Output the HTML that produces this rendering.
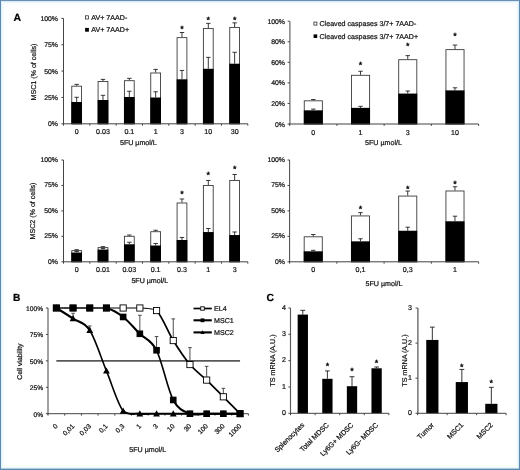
<!DOCTYPE html>
<html lang="en"><head><meta charset="utf-8"><title>Figure</title>
<style>
html,body{margin:0;padding:0;background:#fff;}
body{width:520px;height:470px;overflow:hidden;}
svg{display:block;text-rendering:geometricPrecision;font-family:"Liberation Sans",sans-serif;}
</style></head><body>
<svg width="520" height="470" viewBox="0 0 520 470">
<rect x="0" y="0" width="520" height="470" fill="#fff"/>
<rect x="3.5" y="3.5" width="513" height="462.6" fill="none" stroke="#f7fcff" stroke-width="1"/>
<rect x="2.5" y="2.5" width="515" height="464.6" fill="none" stroke="#eef9fe" stroke-width="1"/>
<rect x="1.5" y="1.5" width="517" height="466.6" fill="none" stroke="#e0f4fd" stroke-width="1"/>
<rect x="4.5" y="4.5" width="511" height="460.6" fill="none" stroke="#fbfeff" stroke-width="1"/>
<rect x="0" y="0" width="520" height="1.1" fill="#6d8fb4"/>
<rect x="0" y="0" width="1" height="470" fill="#5f88b1"/>
<rect x="518.95" y="0" width="1.05" height="470" fill="#5f88b1"/>
<rect x="0" y="468.6" width="520" height="1.4" fill="#5f88b1"/>
<defs><filter id="soft" x="-2%" y="-2%" width="104%" height="104%"><feGaussianBlur stdDeviation="0.35"/></filter></defs>
<g filter="url(#soft)">
<text x="13.50" y="21.30" text-anchor="start" font-size="10.5" font-weight="bold" fill="#000" stroke="#000" stroke-width="0.22">A</text>
<text x="12.90" y="301.30" text-anchor="start" font-size="10.2" font-weight="bold" fill="#000" stroke="#000" stroke-width="0.22">B</text>
<text x="266.50" y="300.80" text-anchor="start" font-size="10.4" font-weight="bold" fill="#000" stroke="#000" stroke-width="0.22">C</text>
<rect x="71.76" y="86.20" width="9.80" height="37.60" fill="#fff" stroke="#3c3c3c" stroke-width="0.9"/>
<rect x="71.31" y="101.97" width="10.70" height="22.23" fill="#000" stroke="none" stroke-width="1"/>
<line x1="76.66" y1="101.97" x2="76.66" y2="97.29" stroke="#222" stroke-width="0.9" />
<line x1="74.46" y1="97.29" x2="78.86" y2="97.29" stroke="#222" stroke-width="0.9" />
<line x1="76.66" y1="85.75" x2="76.66" y2="84.40" stroke="#222" stroke-width="0.9" />
<line x1="74.46" y1="84.40" x2="78.86" y2="84.40" stroke="#222" stroke-width="0.9" />
<text x="76.66" y="134.30" text-anchor="middle" font-size="7.1" font-weight="normal" fill="#111" stroke="#111" stroke-width="0.22">0</text>
<rect x="98.09" y="81.52" width="9.80" height="42.28" fill="#fff" stroke="#3c3c3c" stroke-width="0.9"/>
<rect x="97.64" y="100.00" width="10.70" height="24.20" fill="#000" stroke="none" stroke-width="1"/>
<line x1="102.99" y1="100.00" x2="102.99" y2="95.32" stroke="#222" stroke-width="0.9" />
<line x1="100.79" y1="95.32" x2="105.19" y2="95.32" stroke="#222" stroke-width="0.9" />
<line x1="102.99" y1="81.07" x2="102.99" y2="79.41" stroke="#222" stroke-width="0.9" />
<line x1="100.79" y1="79.41" x2="105.19" y2="79.41" stroke="#222" stroke-width="0.9" />
<text x="102.99" y="134.30" text-anchor="middle" font-size="7.1" font-weight="normal" fill="#111" stroke="#111" stroke-width="0.22">0.03</text>
<rect x="124.42" y="80.69" width="9.80" height="43.11" fill="#fff" stroke="#3c3c3c" stroke-width="0.9"/>
<rect x="123.97" y="96.98" width="10.70" height="27.22" fill="#000" stroke="none" stroke-width="1"/>
<line x1="129.32" y1="96.98" x2="129.32" y2="91.25" stroke="#222" stroke-width="0.9" />
<line x1="127.12" y1="91.25" x2="131.52" y2="91.25" stroke="#222" stroke-width="0.9" />
<line x1="129.32" y1="80.24" x2="129.32" y2="78.36" stroke="#222" stroke-width="0.9" />
<line x1="127.12" y1="78.36" x2="131.52" y2="78.36" stroke="#222" stroke-width="0.9" />
<text x="129.32" y="134.30" text-anchor="middle" font-size="7.1" font-weight="normal" fill="#111" stroke="#111" stroke-width="0.22">0.1</text>
<rect x="150.75" y="72.99" width="9.80" height="50.81" fill="#fff" stroke="#3c3c3c" stroke-width="0.9"/>
<rect x="150.30" y="97.50" width="10.70" height="26.70" fill="#000" stroke="none" stroke-width="1"/>
<line x1="155.65" y1="97.50" x2="155.65" y2="91.78" stroke="#222" stroke-width="0.9" />
<line x1="153.45" y1="91.78" x2="157.85" y2="91.78" stroke="#222" stroke-width="0.9" />
<line x1="155.65" y1="72.54" x2="155.65" y2="69.42" stroke="#222" stroke-width="0.9" />
<line x1="153.45" y1="69.42" x2="157.85" y2="69.42" stroke="#222" stroke-width="0.9" />
<text x="155.65" y="134.30" text-anchor="middle" font-size="7.1" font-weight="normal" fill="#111" stroke="#111" stroke-width="0.22">1</text>
<rect x="177.08" y="37.63" width="9.80" height="86.17" fill="#fff" stroke="#3c3c3c" stroke-width="0.9"/>
<rect x="176.63" y="79.30" width="10.70" height="44.90" fill="#000" stroke="none" stroke-width="1"/>
<line x1="181.98" y1="79.30" x2="181.98" y2="70.46" stroke="#222" stroke-width="0.9" />
<line x1="179.78" y1="70.46" x2="184.18" y2="70.46" stroke="#222" stroke-width="0.9" />
<line x1="181.98" y1="37.18" x2="181.98" y2="32.50" stroke="#222" stroke-width="0.9" />
<line x1="179.78" y1="32.50" x2="184.18" y2="32.50" stroke="#222" stroke-width="0.9" />
<text x="181.98" y="32.10" text-anchor="middle" font-size="9" font-weight="normal" fill="#000" stroke="#000" stroke-width="0.35">*</text>
<text x="181.98" y="134.30" text-anchor="middle" font-size="7.1" font-weight="normal" fill="#111" stroke="#111" stroke-width="0.22">3</text>
<rect x="203.41" y="28.47" width="9.80" height="95.33" fill="#fff" stroke="#3c3c3c" stroke-width="0.9"/>
<rect x="202.96" y="68.79" width="10.70" height="55.41" fill="#000" stroke="none" stroke-width="1"/>
<line x1="208.31" y1="68.79" x2="208.31" y2="57.36" stroke="#222" stroke-width="0.9" />
<line x1="206.11" y1="57.36" x2="210.51" y2="57.36" stroke="#222" stroke-width="0.9" />
<line x1="208.31" y1="28.02" x2="208.31" y2="23.34" stroke="#222" stroke-width="0.9" />
<line x1="206.11" y1="23.34" x2="210.51" y2="23.34" stroke="#222" stroke-width="0.9" />
<text x="208.31" y="23.41" text-anchor="middle" font-size="9" font-weight="normal" fill="#000" stroke="#000" stroke-width="0.35">*</text>
<text x="208.31" y="134.30" text-anchor="middle" font-size="7.1" font-weight="normal" fill="#111" stroke="#111" stroke-width="0.22">10</text>
<rect x="229.74" y="27.44" width="9.80" height="96.36" fill="#fff" stroke="#3c3c3c" stroke-width="0.9"/>
<rect x="229.29" y="63.70" width="10.70" height="60.50" fill="#000" stroke="none" stroke-width="1"/>
<line x1="234.64" y1="63.70" x2="234.64" y2="52.27" stroke="#222" stroke-width="0.9" />
<line x1="232.44" y1="52.27" x2="236.84" y2="52.27" stroke="#222" stroke-width="0.9" />
<line x1="234.64" y1="26.99" x2="234.64" y2="22.83" stroke="#222" stroke-width="0.9" />
<line x1="232.44" y1="22.83" x2="236.84" y2="22.83" stroke="#222" stroke-width="0.9" />
<text x="234.64" y="22.91" text-anchor="middle" font-size="9" font-weight="normal" fill="#000" stroke="#000" stroke-width="0.35">*</text>
<text x="234.64" y="134.30" text-anchor="middle" font-size="7.1" font-weight="normal" fill="#111" stroke="#111" stroke-width="0.22">30</text>
<line x1="63.50" y1="18.40" x2="63.50" y2="124.30" stroke="#454545" stroke-width="1" />
<line x1="63.00" y1="123.80" x2="247.80" y2="123.80" stroke="#454545" stroke-width="1" />
<line x1="61.40" y1="123.80" x2="63.50" y2="123.80" stroke="#454545" stroke-width="1" />
<text x="58.00" y="126.30" text-anchor="end" font-size="6.9" font-weight="normal" fill="#111" stroke="#111" stroke-width="0.22">0%</text>
<line x1="61.40" y1="97.45" x2="63.50" y2="97.45" stroke="#454545" stroke-width="1" />
<text x="58.00" y="99.95" text-anchor="end" font-size="6.9" font-weight="normal" fill="#111" stroke="#111" stroke-width="0.22">25%</text>
<line x1="61.40" y1="71.10" x2="63.50" y2="71.10" stroke="#454545" stroke-width="1" />
<text x="58.00" y="73.60" text-anchor="end" font-size="6.9" font-weight="normal" fill="#111" stroke="#111" stroke-width="0.22">50%</text>
<line x1="61.40" y1="44.75" x2="63.50" y2="44.75" stroke="#454545" stroke-width="1" />
<text x="58.00" y="47.25" text-anchor="end" font-size="6.9" font-weight="normal" fill="#111" stroke="#111" stroke-width="0.22">75%</text>
<line x1="61.40" y1="18.40" x2="63.50" y2="18.40" stroke="#454545" stroke-width="1" />
<text x="58.00" y="20.90" text-anchor="end" font-size="6.9" font-weight="normal" fill="#111" stroke="#111" stroke-width="0.22">100%</text>
<line x1="63.50" y1="123.80" x2="63.50" y2="125.70" stroke="#454545" stroke-width="1" />
<line x1="89.83" y1="123.80" x2="89.83" y2="125.70" stroke="#454545" stroke-width="1" />
<line x1="116.16" y1="123.80" x2="116.16" y2="125.70" stroke="#454545" stroke-width="1" />
<line x1="142.49" y1="123.80" x2="142.49" y2="125.70" stroke="#454545" stroke-width="1" />
<line x1="168.81" y1="123.80" x2="168.81" y2="125.70" stroke="#454545" stroke-width="1" />
<line x1="195.14" y1="123.80" x2="195.14" y2="125.70" stroke="#454545" stroke-width="1" />
<line x1="221.47" y1="123.80" x2="221.47" y2="125.70" stroke="#454545" stroke-width="1" />
<line x1="247.80" y1="123.80" x2="247.80" y2="125.70" stroke="#454545" stroke-width="1" />
<text x="138.40" y="144.50" text-anchor="middle" font-size="7.1" font-weight="normal" fill="#111" stroke="#111" stroke-width="0.22">5FU µmol/L</text>
<text x="36.00" y="72.00" text-anchor="middle" font-size="7.1" font-weight="normal" fill="#111" stroke="#111" stroke-width="0.22" transform="rotate(-90 36.00 72.00)">MSC1 (% of cells)</text>
<rect x="85.40" y="15.80" width="3.20" height="3.20" fill="#fff" stroke="#222" stroke-width="0.75"/>
<text x="91.30" y="19.80" text-anchor="start" font-size="7.1" font-weight="normal" fill="#111" stroke="#111" stroke-width="0.22">AV+ 7AAD-</text>
<rect x="85.10" y="27.90" width="3.80" height="3.80" fill="#000" stroke="none" stroke-width="1"/>
<text x="91.30" y="32.30" text-anchor="start" font-size="7.1" font-weight="normal" fill="#111" stroke="#111" stroke-width="0.22">AV+ 7AAD+</text>
<rect x="304.26" y="100.81" width="18.10" height="23.19" fill="#fff" stroke="#3c3c3c" stroke-width="0.9"/>
<rect x="303.81" y="110.33" width="19.00" height="14.07" fill="#000" stroke="none" stroke-width="1"/>
<line x1="313.31" y1="110.33" x2="313.31" y2="109.09" stroke="#222" stroke-width="0.9" />
<line x1="311.11" y1="109.09" x2="315.51" y2="109.09" stroke="#222" stroke-width="0.9" />
<line x1="313.31" y1="100.36" x2="313.31" y2="99.53" stroke="#222" stroke-width="0.9" />
<line x1="311.11" y1="99.53" x2="315.51" y2="99.53" stroke="#222" stroke-width="0.9" />
<text x="313.31" y="134.80" text-anchor="middle" font-size="7.1" font-weight="normal" fill="#111" stroke="#111" stroke-width="0.22">0</text>
<rect x="351.49" y="75.31" width="18.10" height="48.69" fill="#fff" stroke="#3c3c3c" stroke-width="0.9"/>
<rect x="351.04" y="107.86" width="19.00" height="16.54" fill="#000" stroke="none" stroke-width="1"/>
<line x1="360.54" y1="107.86" x2="360.54" y2="106.32" stroke="#222" stroke-width="0.9" />
<line x1="358.34" y1="106.32" x2="362.74" y2="106.32" stroke="#222" stroke-width="0.9" />
<line x1="360.54" y1="74.86" x2="360.54" y2="71.26" stroke="#222" stroke-width="0.9" />
<line x1="358.34" y1="71.26" x2="362.74" y2="71.26" stroke="#222" stroke-width="0.9" />
<text x="360.54" y="68.11" text-anchor="middle" font-size="9" font-weight="normal" fill="#000" stroke="#000" stroke-width="0.35">*</text>
<text x="360.54" y="134.80" text-anchor="middle" font-size="7.1" font-weight="normal" fill="#111" stroke="#111" stroke-width="0.22">1</text>
<rect x="398.71" y="59.69" width="18.10" height="64.31" fill="#fff" stroke="#3c3c3c" stroke-width="0.9"/>
<rect x="398.26" y="93.57" width="19.00" height="30.83" fill="#000" stroke="none" stroke-width="1"/>
<line x1="407.76" y1="93.57" x2="407.76" y2="91.00" stroke="#222" stroke-width="0.9" />
<line x1="405.56" y1="91.00" x2="409.96" y2="91.00" stroke="#222" stroke-width="0.9" />
<line x1="407.76" y1="59.24" x2="407.76" y2="55.64" stroke="#222" stroke-width="0.9" />
<line x1="405.56" y1="55.64" x2="409.96" y2="55.64" stroke="#222" stroke-width="0.9" />
<text x="407.76" y="48.61" text-anchor="middle" font-size="9" font-weight="normal" fill="#000" stroke="#000" stroke-width="0.35">*</text>
<text x="407.76" y="134.80" text-anchor="middle" font-size="7.1" font-weight="normal" fill="#111" stroke="#111" stroke-width="0.22">3</text>
<rect x="445.94" y="49.61" width="18.10" height="74.39" fill="#fff" stroke="#3c3c3c" stroke-width="0.9"/>
<rect x="445.49" y="90.38" width="19.00" height="34.02" fill="#000" stroke="none" stroke-width="1"/>
<line x1="454.99" y1="90.38" x2="454.99" y2="87.81" stroke="#222" stroke-width="0.9" />
<line x1="452.79" y1="87.81" x2="457.19" y2="87.81" stroke="#222" stroke-width="0.9" />
<line x1="454.99" y1="49.16" x2="454.99" y2="45.05" stroke="#222" stroke-width="0.9" />
<line x1="452.79" y1="45.05" x2="457.19" y2="45.05" stroke="#222" stroke-width="0.9" />
<text x="454.99" y="38.61" text-anchor="middle" font-size="9" font-weight="normal" fill="#000" stroke="#000" stroke-width="0.35">*</text>
<text x="454.99" y="134.80" text-anchor="middle" font-size="7.1" font-weight="normal" fill="#111" stroke="#111" stroke-width="0.22">10</text>
<line x1="289.90" y1="21.20" x2="289.90" y2="124.50" stroke="#6a6a6a" stroke-width="1.25" />
<line x1="289.20" y1="124.00" x2="478.60" y2="124.00" stroke="#454545" stroke-width="1" />
<line x1="287.60" y1="124.00" x2="289.70" y2="124.00" stroke="#454545" stroke-width="1" />
<text x="285.00" y="126.50" text-anchor="end" font-size="6.9" font-weight="normal" fill="#111" stroke="#111" stroke-width="0.22">0%</text>
<line x1="287.60" y1="103.44" x2="289.70" y2="103.44" stroke="#454545" stroke-width="1" />
<text x="285.00" y="105.94" text-anchor="end" font-size="6.9" font-weight="normal" fill="#111" stroke="#111" stroke-width="0.22">20%</text>
<line x1="287.60" y1="82.88" x2="289.70" y2="82.88" stroke="#454545" stroke-width="1" />
<text x="285.00" y="85.38" text-anchor="end" font-size="6.9" font-weight="normal" fill="#111" stroke="#111" stroke-width="0.22">40%</text>
<line x1="287.60" y1="62.32" x2="289.70" y2="62.32" stroke="#454545" stroke-width="1" />
<text x="285.00" y="64.82" text-anchor="end" font-size="6.9" font-weight="normal" fill="#111" stroke="#111" stroke-width="0.22">60%</text>
<line x1="287.60" y1="41.76" x2="289.70" y2="41.76" stroke="#454545" stroke-width="1" />
<text x="285.00" y="44.26" text-anchor="end" font-size="6.9" font-weight="normal" fill="#111" stroke="#111" stroke-width="0.22">80%</text>
<line x1="287.60" y1="21.20" x2="289.70" y2="21.20" stroke="#454545" stroke-width="1" />
<text x="285.00" y="23.70" text-anchor="end" font-size="6.9" font-weight="normal" fill="#111" stroke="#111" stroke-width="0.22">100%</text>
<line x1="289.70" y1="124.00" x2="289.70" y2="125.90" stroke="#454545" stroke-width="1" />
<line x1="336.93" y1="124.00" x2="336.93" y2="125.90" stroke="#454545" stroke-width="1" />
<line x1="384.15" y1="124.00" x2="384.15" y2="125.90" stroke="#454545" stroke-width="1" />
<line x1="431.38" y1="124.00" x2="431.38" y2="125.90" stroke="#454545" stroke-width="1" />
<line x1="478.60" y1="124.00" x2="478.60" y2="125.90" stroke="#454545" stroke-width="1" />
<text x="383.50" y="145.00" text-anchor="middle" font-size="7.1" font-weight="normal" fill="#111" stroke="#111" stroke-width="0.22">5FU µmol/L</text>
<rect x="313.90" y="22.10" width="3.00" height="3.00" fill="#fff" stroke="#222" stroke-width="0.75"/>
<text x="319.50" y="26.20" text-anchor="start" font-size="7.1" font-weight="normal" fill="#111" stroke="#111" stroke-width="0.22">Cleaved caspases 3/7+ 7AAD-</text>
<rect x="313.60" y="34.40" width="3.60" height="3.60" fill="#000" stroke="none" stroke-width="1"/>
<text x="319.50" y="38.80" text-anchor="start" font-size="7.1" font-weight="normal" fill="#111" stroke="#111" stroke-width="0.22">Cleaved caspases 3/7+ 7AAD+</text>
<rect x="71.76" y="250.64" width="9.80" height="11.16" fill="#fff" stroke="#3c3c3c" stroke-width="0.9"/>
<rect x="71.31" y="252.54" width="10.70" height="9.66" fill="#000" stroke="none" stroke-width="1"/>
<line x1="76.66" y1="252.54" x2="76.66" y2="251.52" stroke="#222" stroke-width="0.9" />
<line x1="74.46" y1="251.52" x2="78.86" y2="251.52" stroke="#222" stroke-width="0.9" />
<line x1="76.66" y1="250.19" x2="76.66" y2="249.69" stroke="#222" stroke-width="0.9" />
<line x1="74.46" y1="249.69" x2="78.86" y2="249.69" stroke="#222" stroke-width="0.9" />
<text x="76.66" y="271.80" text-anchor="middle" font-size="7.1" font-weight="normal" fill="#111" stroke="#111" stroke-width="0.22">0</text>
<rect x="98.09" y="247.59" width="9.80" height="14.21" fill="#fff" stroke="#3c3c3c" stroke-width="0.9"/>
<rect x="97.64" y="249.58" width="10.70" height="12.62" fill="#000" stroke="none" stroke-width="1"/>
<line x1="102.99" y1="249.58" x2="102.99" y2="248.57" stroke="#222" stroke-width="0.9" />
<line x1="100.79" y1="248.57" x2="105.19" y2="248.57" stroke="#222" stroke-width="0.9" />
<line x1="102.99" y1="247.14" x2="102.99" y2="246.63" stroke="#222" stroke-width="0.9" />
<line x1="100.79" y1="246.63" x2="105.19" y2="246.63" stroke="#222" stroke-width="0.9" />
<text x="102.99" y="271.80" text-anchor="middle" font-size="7.1" font-weight="normal" fill="#111" stroke="#111" stroke-width="0.22">0.01</text>
<rect x="124.42" y="236.29" width="9.80" height="25.51" fill="#fff" stroke="#3c3c3c" stroke-width="0.9"/>
<rect x="123.97" y="244.29" width="10.70" height="17.91" fill="#000" stroke="none" stroke-width="1"/>
<line x1="129.32" y1="244.29" x2="129.32" y2="242.25" stroke="#222" stroke-width="0.9" />
<line x1="127.12" y1="242.25" x2="131.52" y2="242.25" stroke="#222" stroke-width="0.9" />
<line x1="129.32" y1="235.84" x2="129.32" y2="235.03" stroke="#222" stroke-width="0.9" />
<line x1="127.12" y1="235.03" x2="131.52" y2="235.03" stroke="#222" stroke-width="0.9" />
<text x="129.32" y="271.80" text-anchor="middle" font-size="7.1" font-weight="normal" fill="#111" stroke="#111" stroke-width="0.22">0.03</text>
<rect x="150.75" y="231.71" width="9.80" height="30.09" fill="#fff" stroke="#3c3c3c" stroke-width="0.9"/>
<rect x="150.30" y="245.51" width="10.70" height="16.69" fill="#000" stroke="none" stroke-width="1"/>
<line x1="155.65" y1="245.51" x2="155.65" y2="243.48" stroke="#222" stroke-width="0.9" />
<line x1="153.45" y1="243.48" x2="157.85" y2="243.48" stroke="#222" stroke-width="0.9" />
<line x1="155.65" y1="231.26" x2="155.65" y2="230.24" stroke="#222" stroke-width="0.9" />
<line x1="153.45" y1="230.24" x2="157.85" y2="230.24" stroke="#222" stroke-width="0.9" />
<text x="155.65" y="271.80" text-anchor="middle" font-size="7.1" font-weight="normal" fill="#111" stroke="#111" stroke-width="0.22">0.1</text>
<rect x="177.08" y="203.00" width="9.80" height="58.80" fill="#fff" stroke="#3c3c3c" stroke-width="0.9"/>
<rect x="176.63" y="240.01" width="10.70" height="22.19" fill="#000" stroke="none" stroke-width="1"/>
<line x1="181.98" y1="240.01" x2="181.98" y2="237.47" stroke="#222" stroke-width="0.9" />
<line x1="179.78" y1="237.47" x2="184.18" y2="237.47" stroke="#222" stroke-width="0.9" />
<line x1="181.98" y1="202.55" x2="181.98" y2="198.99" stroke="#222" stroke-width="0.9" />
<line x1="179.78" y1="198.99" x2="184.18" y2="198.99" stroke="#222" stroke-width="0.9" />
<text x="181.98" y="197.41" text-anchor="middle" font-size="9" font-weight="normal" fill="#000" stroke="#000" stroke-width="0.35">*</text>
<text x="181.98" y="271.80" text-anchor="middle" font-size="7.1" font-weight="normal" fill="#111" stroke="#111" stroke-width="0.22">0.3</text>
<rect x="203.41" y="185.49" width="9.80" height="76.31" fill="#fff" stroke="#3c3c3c" stroke-width="0.9"/>
<rect x="202.96" y="232.07" width="10.70" height="30.13" fill="#000" stroke="none" stroke-width="1"/>
<line x1="208.31" y1="232.07" x2="208.31" y2="228.51" stroke="#222" stroke-width="0.9" />
<line x1="206.11" y1="228.51" x2="210.51" y2="228.51" stroke="#222" stroke-width="0.9" />
<line x1="208.31" y1="185.04" x2="208.31" y2="180.46" stroke="#222" stroke-width="0.9" />
<line x1="206.11" y1="180.46" x2="210.51" y2="180.46" stroke="#222" stroke-width="0.9" />
<text x="208.31" y="177.91" text-anchor="middle" font-size="9" font-weight="normal" fill="#000" stroke="#000" stroke-width="0.35">*</text>
<text x="208.31" y="271.80" text-anchor="middle" font-size="7.1" font-weight="normal" fill="#111" stroke="#111" stroke-width="0.22">1</text>
<rect x="229.74" y="180.50" width="9.80" height="81.30" fill="#fff" stroke="#3c3c3c" stroke-width="0.9"/>
<rect x="229.29" y="235.03" width="10.70" height="27.17" fill="#000" stroke="none" stroke-width="1"/>
<line x1="234.64" y1="235.03" x2="234.64" y2="231.97" stroke="#222" stroke-width="0.9" />
<line x1="232.44" y1="231.97" x2="236.84" y2="231.97" stroke="#222" stroke-width="0.9" />
<line x1="234.64" y1="180.05" x2="234.64" y2="174.46" stroke="#222" stroke-width="0.9" />
<line x1="232.44" y1="174.46" x2="236.84" y2="174.46" stroke="#222" stroke-width="0.9" />
<text x="234.64" y="172.41" text-anchor="middle" font-size="9" font-weight="normal" fill="#000" stroke="#000" stroke-width="0.35">*</text>
<text x="234.64" y="271.80" text-anchor="middle" font-size="7.1" font-weight="normal" fill="#111" stroke="#111" stroke-width="0.22">3</text>
<line x1="63.50" y1="160.00" x2="63.50" y2="262.30" stroke="#454545" stroke-width="1" />
<line x1="63.00" y1="261.80" x2="247.80" y2="261.80" stroke="#454545" stroke-width="1" />
<line x1="61.40" y1="261.80" x2="63.50" y2="261.80" stroke="#454545" stroke-width="1" />
<text x="58.00" y="263.70" text-anchor="end" font-size="6.9" font-weight="normal" fill="#111" stroke="#111" stroke-width="0.22">0%</text>
<line x1="61.40" y1="236.35" x2="63.50" y2="236.35" stroke="#454545" stroke-width="1" />
<text x="58.00" y="238.25" text-anchor="end" font-size="6.9" font-weight="normal" fill="#111" stroke="#111" stroke-width="0.22">25%</text>
<line x1="61.40" y1="210.90" x2="63.50" y2="210.90" stroke="#454545" stroke-width="1" />
<text x="58.00" y="212.80" text-anchor="end" font-size="6.9" font-weight="normal" fill="#111" stroke="#111" stroke-width="0.22">50%</text>
<line x1="61.40" y1="185.45" x2="63.50" y2="185.45" stroke="#454545" stroke-width="1" />
<text x="58.00" y="187.35" text-anchor="end" font-size="6.9" font-weight="normal" fill="#111" stroke="#111" stroke-width="0.22">75%</text>
<line x1="61.40" y1="160.00" x2="63.50" y2="160.00" stroke="#454545" stroke-width="1" />
<text x="58.00" y="161.90" text-anchor="end" font-size="6.9" font-weight="normal" fill="#111" stroke="#111" stroke-width="0.22">100%</text>
<line x1="63.50" y1="261.80" x2="63.50" y2="263.70" stroke="#454545" stroke-width="1" />
<line x1="89.83" y1="261.80" x2="89.83" y2="263.70" stroke="#454545" stroke-width="1" />
<line x1="116.16" y1="261.80" x2="116.16" y2="263.70" stroke="#454545" stroke-width="1" />
<line x1="142.49" y1="261.80" x2="142.49" y2="263.70" stroke="#454545" stroke-width="1" />
<line x1="168.81" y1="261.80" x2="168.81" y2="263.70" stroke="#454545" stroke-width="1" />
<line x1="195.14" y1="261.80" x2="195.14" y2="263.70" stroke="#454545" stroke-width="1" />
<line x1="221.47" y1="261.80" x2="221.47" y2="263.70" stroke="#454545" stroke-width="1" />
<line x1="247.80" y1="261.80" x2="247.80" y2="263.70" stroke="#454545" stroke-width="1" />
<text x="149.80" y="283.30" text-anchor="middle" font-size="7.1" font-weight="normal" fill="#111" stroke="#111" stroke-width="0.22">5FU µmol/L</text>
<text x="35.30" y="211.00" text-anchor="middle" font-size="7.1" font-weight="normal" fill="#111" stroke="#111" stroke-width="0.22" transform="rotate(-90 35.30 211.00)">MSC2 (% of cells)</text>
<rect x="304.18" y="236.80" width="18.10" height="25.00" fill="#fff" stroke="#3c3c3c" stroke-width="0.9"/>
<rect x="303.73" y="251.31" width="19.00" height="10.89" fill="#000" stroke="none" stroke-width="1"/>
<line x1="313.23" y1="251.31" x2="313.23" y2="250.30" stroke="#222" stroke-width="0.9" />
<line x1="311.03" y1="250.30" x2="315.43" y2="250.30" stroke="#222" stroke-width="0.9" />
<line x1="313.23" y1="236.35" x2="313.23" y2="234.52" stroke="#222" stroke-width="0.9" />
<line x1="311.03" y1="234.52" x2="315.43" y2="234.52" stroke="#222" stroke-width="0.9" />
<text x="313.23" y="271.80" text-anchor="middle" font-size="7.1" font-weight="normal" fill="#111" stroke="#111" stroke-width="0.22">0</text>
<rect x="351.43" y="215.93" width="18.10" height="45.87" fill="#fff" stroke="#3c3c3c" stroke-width="0.9"/>
<rect x="350.98" y="241.34" width="19.00" height="20.86" fill="#000" stroke="none" stroke-width="1"/>
<line x1="360.48" y1="241.34" x2="360.48" y2="238.79" stroke="#222" stroke-width="0.9" />
<line x1="358.28" y1="238.79" x2="362.68" y2="238.79" stroke="#222" stroke-width="0.9" />
<line x1="360.48" y1="215.48" x2="360.48" y2="212.63" stroke="#222" stroke-width="0.9" />
<line x1="358.28" y1="212.63" x2="362.68" y2="212.63" stroke="#222" stroke-width="0.9" />
<text x="360.48" y="211.91" text-anchor="middle" font-size="9" font-weight="normal" fill="#000" stroke="#000" stroke-width="0.35">*</text>
<text x="360.48" y="271.80" text-anchor="middle" font-size="7.1" font-weight="normal" fill="#111" stroke="#111" stroke-width="0.22">0,1</text>
<rect x="398.68" y="196.08" width="18.10" height="65.72" fill="#fff" stroke="#3c3c3c" stroke-width="0.9"/>
<rect x="398.23" y="230.75" width="19.00" height="31.45" fill="#000" stroke="none" stroke-width="1"/>
<line x1="407.73" y1="230.75" x2="407.73" y2="227.19" stroke="#222" stroke-width="0.9" />
<line x1="405.53" y1="227.19" x2="409.93" y2="227.19" stroke="#222" stroke-width="0.9" />
<line x1="407.73" y1="195.63" x2="407.73" y2="191.05" stroke="#222" stroke-width="0.9" />
<line x1="405.53" y1="191.05" x2="409.93" y2="191.05" stroke="#222" stroke-width="0.9" />
<text x="407.73" y="191.91" text-anchor="middle" font-size="9" font-weight="normal" fill="#000" stroke="#000" stroke-width="0.35">*</text>
<text x="407.73" y="271.80" text-anchor="middle" font-size="7.1" font-weight="normal" fill="#111" stroke="#111" stroke-width="0.22">0,3</text>
<rect x="445.93" y="190.99" width="18.10" height="70.81" fill="#fff" stroke="#3c3c3c" stroke-width="0.9"/>
<rect x="445.48" y="221.28" width="19.00" height="40.92" fill="#000" stroke="none" stroke-width="1"/>
<line x1="454.98" y1="221.28" x2="454.98" y2="216.19" stroke="#222" stroke-width="0.9" />
<line x1="452.78" y1="216.19" x2="457.18" y2="216.19" stroke="#222" stroke-width="0.9" />
<line x1="454.98" y1="190.54" x2="454.98" y2="186.77" stroke="#222" stroke-width="0.9" />
<line x1="452.78" y1="186.77" x2="457.18" y2="186.77" stroke="#222" stroke-width="0.9" />
<text x="454.98" y="187.41" text-anchor="middle" font-size="9" font-weight="normal" fill="#000" stroke="#000" stroke-width="0.35">*</text>
<text x="454.98" y="271.80" text-anchor="middle" font-size="7.1" font-weight="normal" fill="#111" stroke="#111" stroke-width="0.22">1</text>
<line x1="289.60" y1="160.00" x2="289.60" y2="262.30" stroke="#454545" stroke-width="1" />
<line x1="289.10" y1="261.80" x2="478.60" y2="261.80" stroke="#454545" stroke-width="1" />
<line x1="287.50" y1="261.80" x2="289.60" y2="261.80" stroke="#454545" stroke-width="1" />
<text x="285.00" y="263.70" text-anchor="end" font-size="6.9" font-weight="normal" fill="#111" stroke="#111" stroke-width="0.22">0%</text>
<line x1="287.50" y1="236.35" x2="289.60" y2="236.35" stroke="#454545" stroke-width="1" />
<text x="285.00" y="238.25" text-anchor="end" font-size="6.9" font-weight="normal" fill="#111" stroke="#111" stroke-width="0.22">25%</text>
<line x1="287.50" y1="210.90" x2="289.60" y2="210.90" stroke="#454545" stroke-width="1" />
<text x="285.00" y="212.80" text-anchor="end" font-size="6.9" font-weight="normal" fill="#111" stroke="#111" stroke-width="0.22">50%</text>
<line x1="287.50" y1="185.45" x2="289.60" y2="185.45" stroke="#454545" stroke-width="1" />
<text x="285.00" y="187.35" text-anchor="end" font-size="6.9" font-weight="normal" fill="#111" stroke="#111" stroke-width="0.22">75%</text>
<line x1="287.50" y1="160.00" x2="289.60" y2="160.00" stroke="#454545" stroke-width="1" />
<text x="285.00" y="161.90" text-anchor="end" font-size="6.9" font-weight="normal" fill="#111" stroke="#111" stroke-width="0.22">100%</text>
<line x1="289.60" y1="261.80" x2="289.60" y2="263.70" stroke="#454545" stroke-width="1" />
<line x1="336.85" y1="261.80" x2="336.85" y2="263.70" stroke="#454545" stroke-width="1" />
<line x1="384.10" y1="261.80" x2="384.10" y2="263.70" stroke="#454545" stroke-width="1" />
<line x1="431.35" y1="261.80" x2="431.35" y2="263.70" stroke="#454545" stroke-width="1" />
<line x1="478.60" y1="261.80" x2="478.60" y2="263.70" stroke="#454545" stroke-width="1" />
<text x="384.00" y="286.30" text-anchor="middle" font-size="7.1" font-weight="normal" fill="#111" stroke="#111" stroke-width="0.22">5FU µmol/L</text>
<line x1="56.35" y1="360.85" x2="240.05" y2="360.85" stroke="#585858" stroke-width="1.9" />
<line x1="48.00" y1="308.00" x2="48.00" y2="414.20" stroke="#454545" stroke-width="1" />
<line x1="47.50" y1="413.70" x2="248.40" y2="413.70" stroke="#454545" stroke-width="1" />
<line x1="45.90" y1="413.70" x2="48.00" y2="413.70" stroke="#454545" stroke-width="1" />
<text x="43.10" y="416.50" text-anchor="end" font-size="6.7" font-weight="normal" fill="#111" stroke="#111" stroke-width="0.22">0%</text>
<line x1="45.90" y1="387.27" x2="48.00" y2="387.27" stroke="#454545" stroke-width="1" />
<text x="43.10" y="390.07" text-anchor="end" font-size="6.7" font-weight="normal" fill="#111" stroke="#111" stroke-width="0.22">25%</text>
<line x1="45.90" y1="360.85" x2="48.00" y2="360.85" stroke="#454545" stroke-width="1" />
<text x="43.10" y="363.65" text-anchor="end" font-size="6.7" font-weight="normal" fill="#111" stroke="#111" stroke-width="0.22">50%</text>
<line x1="45.90" y1="334.43" x2="48.00" y2="334.43" stroke="#454545" stroke-width="1" />
<text x="43.10" y="337.23" text-anchor="end" font-size="6.7" font-weight="normal" fill="#111" stroke="#111" stroke-width="0.22">75%</text>
<line x1="45.90" y1="308.00" x2="48.00" y2="308.00" stroke="#454545" stroke-width="1" />
<text x="43.10" y="310.80" text-anchor="end" font-size="6.7" font-weight="normal" fill="#111" stroke="#111" stroke-width="0.22">100%</text>
<line x1="48.00" y1="413.70" x2="48.00" y2="415.60" stroke="#454545" stroke-width="1" />
<line x1="64.70" y1="413.70" x2="64.70" y2="415.60" stroke="#454545" stroke-width="1" />
<line x1="81.40" y1="413.70" x2="81.40" y2="415.60" stroke="#454545" stroke-width="1" />
<line x1="98.10" y1="413.70" x2="98.10" y2="415.60" stroke="#454545" stroke-width="1" />
<line x1="114.80" y1="413.70" x2="114.80" y2="415.60" stroke="#454545" stroke-width="1" />
<line x1="131.50" y1="413.70" x2="131.50" y2="415.60" stroke="#454545" stroke-width="1" />
<line x1="148.20" y1="413.70" x2="148.20" y2="415.60" stroke="#454545" stroke-width="1" />
<line x1="164.90" y1="413.70" x2="164.90" y2="415.60" stroke="#454545" stroke-width="1" />
<line x1="181.60" y1="413.70" x2="181.60" y2="415.60" stroke="#454545" stroke-width="1" />
<line x1="198.30" y1="413.70" x2="198.30" y2="415.60" stroke="#454545" stroke-width="1" />
<line x1="215.00" y1="413.70" x2="215.00" y2="415.60" stroke="#454545" stroke-width="1" />
<line x1="231.70" y1="413.70" x2="231.70" y2="415.60" stroke="#454545" stroke-width="1" />
<line x1="248.40" y1="413.70" x2="248.40" y2="415.60" stroke="#454545" stroke-width="1" />
<text x="58.15" y="426.70" text-anchor="end" font-size="6.7" font-weight="normal" fill="#111" stroke="#111" stroke-width="0.22" transform="rotate(-45 58.15 426.70)">0</text>
<text x="74.85" y="426.70" text-anchor="end" font-size="6.7" font-weight="normal" fill="#111" stroke="#111" stroke-width="0.22" transform="rotate(-45 74.85 426.70)">0,01</text>
<text x="91.55" y="426.70" text-anchor="end" font-size="6.7" font-weight="normal" fill="#111" stroke="#111" stroke-width="0.22" transform="rotate(-45 91.55 426.70)">0,03</text>
<text x="108.25" y="426.70" text-anchor="end" font-size="6.7" font-weight="normal" fill="#111" stroke="#111" stroke-width="0.22" transform="rotate(-45 108.25 426.70)">0,1</text>
<text x="124.95" y="426.70" text-anchor="end" font-size="6.7" font-weight="normal" fill="#111" stroke="#111" stroke-width="0.22" transform="rotate(-45 124.95 426.70)">0,3</text>
<text x="141.65" y="426.70" text-anchor="end" font-size="6.7" font-weight="normal" fill="#111" stroke="#111" stroke-width="0.22" transform="rotate(-45 141.65 426.70)">1</text>
<text x="158.35" y="426.70" text-anchor="end" font-size="6.7" font-weight="normal" fill="#111" stroke="#111" stroke-width="0.22" transform="rotate(-45 158.35 426.70)">3</text>
<text x="175.05" y="426.70" text-anchor="end" font-size="6.7" font-weight="normal" fill="#111" stroke="#111" stroke-width="0.22" transform="rotate(-45 175.05 426.70)">10</text>
<text x="191.75" y="426.70" text-anchor="end" font-size="6.7" font-weight="normal" fill="#111" stroke="#111" stroke-width="0.22" transform="rotate(-45 191.75 426.70)">30</text>
<text x="208.45" y="426.70" text-anchor="end" font-size="6.7" font-weight="normal" fill="#111" stroke="#111" stroke-width="0.22" transform="rotate(-45 208.45 426.70)">100</text>
<text x="225.15" y="426.70" text-anchor="end" font-size="6.7" font-weight="normal" fill="#111" stroke="#111" stroke-width="0.22" transform="rotate(-45 225.15 426.70)">300</text>
<text x="241.85" y="426.70" text-anchor="end" font-size="6.7" font-weight="normal" fill="#111" stroke="#111" stroke-width="0.22" transform="rotate(-45 241.85 426.70)">1000</text>
<line x1="139.85" y1="333.79" x2="139.85" y2="315.29" stroke="#3a3a3a" stroke-width="0.9" />
<line x1="138.05" y1="315.29" x2="141.65" y2="315.29" stroke="#3a3a3a" stroke-width="0.9" />
<line x1="156.55" y1="350.28" x2="156.55" y2="336.54" stroke="#3a3a3a" stroke-width="0.9" />
<line x1="154.75" y1="336.54" x2="158.35" y2="336.54" stroke="#3a3a3a" stroke-width="0.9" />
<line x1="173.25" y1="340.56" x2="173.25" y2="318.89" stroke="#3a3a3a" stroke-width="0.9" />
<line x1="171.45" y1="318.89" x2="175.05" y2="318.89" stroke="#3a3a3a" stroke-width="0.9" />
<line x1="189.95" y1="364.55" x2="189.95" y2="347.64" stroke="#3a3a3a" stroke-width="0.9" />
<line x1="188.15" y1="347.64" x2="191.75" y2="347.64" stroke="#3a3a3a" stroke-width="0.9" />
<line x1="206.65" y1="380.09" x2="206.65" y2="366.35" stroke="#3a3a3a" stroke-width="0.9" />
<line x1="204.85" y1="366.35" x2="208.45" y2="366.35" stroke="#3a3a3a" stroke-width="0.9" />
<line x1="223.35" y1="396.79" x2="223.35" y2="388.33" stroke="#3a3a3a" stroke-width="0.9" />
<line x1="221.55" y1="388.33" x2="225.15" y2="388.33" stroke="#3a3a3a" stroke-width="0.9" />
<line x1="73.05" y1="318.57" x2="73.05" y2="313.29" stroke="#3a3a3a" stroke-width="0.9" />
<line x1="71.25" y1="313.29" x2="74.85" y2="313.29" stroke="#3a3a3a" stroke-width="0.9" />
<line x1="89.75" y1="330.20" x2="89.75" y2="325.97" stroke="#3a3a3a" stroke-width="0.9" />
<line x1="87.95" y1="325.97" x2="91.55" y2="325.97" stroke="#3a3a3a" stroke-width="0.9" />
<path d="M56.35,308.00 C59.13,308.00 67.48,308.00 73.05,308.00 C78.62,308.00 84.18,308.00 89.75,308.00 C95.32,308.00 100.88,308.00 106.45,308.00 C112.02,308.00 117.58,308.00 123.15,308.00 C128.72,308.00 134.28,308.00 139.85,308.00 C145.42,308.42 150.98,308.00 156.55,310.54" fill="none" stroke="#000" stroke-width="1.0" stroke-linejoin="round" stroke-linecap="round"/>
<path d="M156.55,310.54 C162.12,315.96 167.68,331.55 173.25,340.56 C178.82,349.56 184.38,357.96 189.95,364.55 C195.52,371.14 201.08,374.71 206.65,380.09 C212.22,385.46 217.78,391.19 223.35,396.79 C228.92,402.39 237.27,410.88 240.05,413.70" fill="none" stroke="#000" stroke-width="1.7" stroke-linejoin="round" stroke-linecap="round"/>
<rect x="53.25" y="304.90" width="6.20" height="6.20" fill="#fff" stroke="#000" stroke-width="0.9"/>
<rect x="69.95" y="304.90" width="6.20" height="6.20" fill="#fff" stroke="#000" stroke-width="0.9"/>
<rect x="86.65" y="304.90" width="6.20" height="6.20" fill="#fff" stroke="#000" stroke-width="0.9"/>
<rect x="103.35" y="304.90" width="6.20" height="6.20" fill="#fff" stroke="#000" stroke-width="0.9"/>
<rect x="120.05" y="304.90" width="6.20" height="6.20" fill="#fff" stroke="#000" stroke-width="0.9"/>
<rect x="136.75" y="304.90" width="6.20" height="6.20" fill="#fff" stroke="#000" stroke-width="0.9"/>
<rect x="153.45" y="307.44" width="6.20" height="6.20" fill="#fff" stroke="#000" stroke-width="0.9"/>
<rect x="170.15" y="337.46" width="6.20" height="6.20" fill="#fff" stroke="#000" stroke-width="0.9"/>
<rect x="186.85" y="361.45" width="6.20" height="6.20" fill="#fff" stroke="#000" stroke-width="0.9"/>
<rect x="203.55" y="376.99" width="6.20" height="6.20" fill="#fff" stroke="#000" stroke-width="0.9"/>
<rect x="220.25" y="393.69" width="6.20" height="6.20" fill="#fff" stroke="#000" stroke-width="0.9"/>
<rect x="236.95" y="410.60" width="6.20" height="6.20" fill="#fff" stroke="#000" stroke-width="0.9"/>
<path d="M56.35,308.00 C59.13,309.76 67.48,314.87 73.05,318.57 C78.62,322.27 84.18,321.48 89.75,330.20" fill="none" stroke="#000" stroke-width="2.1" stroke-linejoin="round" stroke-linecap="round"/>
<path d="M89.75,330.20 C95.32,338.92 100.88,357.43 106.45,370.89 C112.02,384.35 117.58,403.82 123.15,410.95" fill="none" stroke="#000" stroke-width="1.6" stroke-linejoin="round" stroke-linecap="round"/>
<path d="M123.15,410.95 C128.72,415.70 134.28,413.24 139.85,413.70 C145.42,414.16 150.98,413.70 156.55,413.70 C162.12,413.70 167.68,413.70 173.25,413.70 C178.82,413.70 184.38,413.70 189.95,413.70 C195.52,413.70 201.08,413.70 206.65,413.70 C212.22,413.70 217.78,413.70 223.35,413.70 C228.92,413.70 237.27,413.70 240.05,413.70" fill="none" stroke="#000" stroke-width="2.1" stroke-linejoin="round" stroke-linecap="round"/>
<path d="M56.35,304.50 L59.75,310.70 L52.95,310.70 Z" fill="#000"/>
<path d="M73.05,315.07 L76.45,321.27 L69.65,321.27 Z" fill="#000"/>
<path d="M89.75,326.70 L93.15,332.90 L86.35,332.90 Z" fill="#000"/>
<path d="M106.45,367.39 L109.85,373.59 L103.05,373.59 Z" fill="#000"/>
<path d="M123.15,407.45 L126.55,413.65 L119.75,413.65 Z" fill="#000"/>
<path d="M139.85,410.20 L143.25,416.40 L136.45,416.40 Z" fill="#000"/>
<path d="M156.55,410.20 L159.95,416.40 L153.15,416.40 Z" fill="#000"/>
<path d="M173.25,410.20 L176.65,416.40 L169.85,416.40 Z" fill="#000"/>
<path d="M189.95,410.20 L193.35,416.40 L186.55,416.40 Z" fill="#000"/>
<path d="M206.65,410.20 L210.05,416.40 L203.25,416.40 Z" fill="#000"/>
<path d="M223.35,410.20 L226.75,416.40 L219.95,416.40 Z" fill="#000"/>
<path d="M240.05,410.20 L243.45,416.40 L236.65,416.40 Z" fill="#000"/>
<path d="M56.35,308.00 C59.13,308.00 67.48,308.00 73.05,308.00 C78.62,308.00 84.18,308.00 89.75,308.00 C95.32,308.00 100.88,308.00 106.45,308.00" fill="none" stroke="#000" stroke-width="1.0" stroke-linejoin="round" stroke-linecap="round"/>
<path d="M106.45,308.00 C112.02,309.50 117.58,312.69 123.15,316.98 C128.72,321.28 134.28,328.24 139.85,333.79 C145.42,339.34 150.98,339.25 156.55,350.28" fill="none" stroke="#000" stroke-width="2.1" stroke-linejoin="round" stroke-linecap="round"/>
<path d="M156.55,350.28 C162.12,361.31 167.68,389.39 173.25,399.96" fill="none" stroke="#000" stroke-width="1.6" stroke-linejoin="round" stroke-linecap="round"/>
<path d="M173.25,399.96 C178.82,410.53 184.38,411.41 189.95,413.70 C195.52,415.70 201.08,413.70 206.65,413.70 C212.22,413.70 217.78,413.70 223.35,413.70 C228.92,413.70 237.27,413.70 240.05,413.70" fill="none" stroke="#000" stroke-width="2.1" stroke-linejoin="round" stroke-linecap="round"/>
<rect x="53.05" y="304.70" width="6.60" height="6.60" fill="#000" stroke="none" stroke-width="1"/>
<rect x="69.75" y="304.70" width="6.60" height="6.60" fill="#000" stroke="none" stroke-width="1"/>
<rect x="86.45" y="304.70" width="6.60" height="6.60" fill="#000" stroke="none" stroke-width="1"/>
<rect x="103.15" y="304.70" width="6.60" height="6.60" fill="#000" stroke="none" stroke-width="1"/>
<rect x="119.85" y="313.68" width="6.60" height="6.60" fill="#000" stroke="none" stroke-width="1"/>
<rect x="136.55" y="330.49" width="6.60" height="6.60" fill="#000" stroke="none" stroke-width="1"/>
<rect x="153.25" y="346.98" width="6.60" height="6.60" fill="#000" stroke="none" stroke-width="1"/>
<rect x="169.95" y="396.66" width="6.60" height="6.60" fill="#000" stroke="none" stroke-width="1"/>
<rect x="186.65" y="410.40" width="6.60" height="6.60" fill="#000" stroke="none" stroke-width="1"/>
<rect x="203.35" y="410.40" width="6.60" height="6.60" fill="#000" stroke="none" stroke-width="1"/>
<rect x="220.05" y="410.40" width="6.60" height="6.60" fill="#000" stroke="none" stroke-width="1"/>
<rect x="236.75" y="410.40" width="6.60" height="6.60" fill="#000" stroke="none" stroke-width="1"/>
<line x1="193.50" y1="308.50" x2="211.80" y2="308.50" stroke="#000" stroke-width="1.7" />
<rect x="200.70" y="306.80" width="3.60" height="3.40" fill="#fff" stroke="#000" stroke-width="0.9"/>
<text x="214.00" y="311.10" text-anchor="start" font-size="7.1" font-weight="normal" fill="#111" stroke="#111" stroke-width="0.22">EL4</text>
<line x1="193.50" y1="320.30" x2="211.80" y2="320.30" stroke="#000" stroke-width="2.1" />
<rect x="200.60" y="318.40" width="3.80" height="3.80" fill="#000" stroke="none" stroke-width="1"/>
<text x="214.00" y="322.90" text-anchor="start" font-size="7.1" font-weight="normal" fill="#111" stroke="#111" stroke-width="0.22">MSC1</text>
<line x1="193.50" y1="332.40" x2="211.80" y2="332.40" stroke="#000" stroke-width="2.1" />
<path d="M202.50,330.20 L204.60,334.10 L200.40,334.10 Z" fill="#000"/>
<text x="214.00" y="335.00" text-anchor="start" font-size="7.1" font-weight="normal" fill="#111" stroke="#111" stroke-width="0.22">MSC2</text>
<text x="147.70" y="452.10" text-anchor="middle" font-size="7.1" font-weight="normal" fill="#111" stroke="#111" stroke-width="0.22">5FU µmol/L</text>
<text x="22.10" y="361.60" text-anchor="middle" font-size="6.9" font-weight="normal" fill="#111" stroke="#111" stroke-width="0.22" transform="rotate(-90 22.10 361.60)">Cell viability</text>
<rect x="297.65" y="314.58" width="10.30" height="98.72" fill="#000" stroke="none" stroke-width="1"/>
<line x1="302.80" y1="314.58" x2="302.80" y2="310.37" stroke="#222" stroke-width="0.9" />
<line x1="300.40" y1="310.37" x2="305.20" y2="310.37" stroke="#222" stroke-width="0.9" />
<text x="304.80" y="425.50" text-anchor="end" font-size="7.1" font-weight="normal" fill="#111" stroke="#111" stroke-width="0.22" transform="rotate(-45 304.80 425.50)">Splenocytes</text>
<rect x="322.25" y="378.81" width="10.30" height="34.49" fill="#000" stroke="none" stroke-width="1"/>
<line x1="327.40" y1="378.81" x2="327.40" y2="370.92" stroke="#222" stroke-width="0.9" />
<line x1="325.00" y1="370.92" x2="329.80" y2="370.92" stroke="#222" stroke-width="0.9" />
<text x="327.40" y="368.90" text-anchor="middle" font-size="9" font-weight="normal" fill="#000" stroke="#000" stroke-width="0.35">*</text>
<text x="329.40" y="425.50" text-anchor="end" font-size="7.1" font-weight="normal" fill="#111" stroke="#111" stroke-width="0.22" transform="rotate(-45 329.40 425.50)">Total MDSC</text>
<rect x="346.85" y="386.19" width="10.30" height="27.11" fill="#000" stroke="none" stroke-width="1"/>
<line x1="352.00" y1="386.19" x2="352.00" y2="376.71" stroke="#222" stroke-width="0.9" />
<line x1="349.60" y1="376.71" x2="354.40" y2="376.71" stroke="#222" stroke-width="0.9" />
<text x="352.00" y="374.40" text-anchor="middle" font-size="9" font-weight="normal" fill="#000" stroke="#000" stroke-width="0.35">*</text>
<text x="354.00" y="425.50" text-anchor="end" font-size="7.1" font-weight="normal" fill="#111" stroke="#111" stroke-width="0.22" transform="rotate(-45 354.00 425.50)">Ly6G+ MDSC</text>
<rect x="371.45" y="368.28" width="10.30" height="45.02" fill="#000" stroke="none" stroke-width="1"/>
<line x1="376.60" y1="368.28" x2="376.60" y2="366.97" stroke="#222" stroke-width="0.9" />
<line x1="374.20" y1="366.97" x2="379.00" y2="366.97" stroke="#222" stroke-width="0.9" />
<text x="376.60" y="365.90" text-anchor="middle" font-size="9" font-weight="normal" fill="#000" stroke="#000" stroke-width="0.35">*</text>
<text x="378.60" y="425.50" text-anchor="end" font-size="7.1" font-weight="normal" fill="#111" stroke="#111" stroke-width="0.22" transform="rotate(-45 378.60 425.50)">Ly6G- MDSC</text>
<line x1="290.50" y1="308.00" x2="290.50" y2="413.80" stroke="#5a5a5a" stroke-width="1.15" />
<line x1="290.00" y1="413.30" x2="388.90" y2="413.30" stroke="#454545" stroke-width="1" />
<line x1="288.40" y1="413.30" x2="290.50" y2="413.30" stroke="#454545" stroke-width="1" />
<text x="285.90" y="415.10" text-anchor="end" font-size="7.1" font-weight="normal" fill="#111" stroke="#111" stroke-width="0.22">0</text>
<line x1="288.40" y1="386.98" x2="290.50" y2="386.98" stroke="#454545" stroke-width="1" />
<text x="285.90" y="388.78" text-anchor="end" font-size="7.1" font-weight="normal" fill="#111" stroke="#111" stroke-width="0.22">1</text>
<line x1="288.40" y1="360.65" x2="290.50" y2="360.65" stroke="#454545" stroke-width="1" />
<text x="285.90" y="362.45" text-anchor="end" font-size="7.1" font-weight="normal" fill="#111" stroke="#111" stroke-width="0.22">2</text>
<line x1="288.40" y1="334.32" x2="290.50" y2="334.32" stroke="#454545" stroke-width="1" />
<text x="285.90" y="336.12" text-anchor="end" font-size="7.1" font-weight="normal" fill="#111" stroke="#111" stroke-width="0.22">3</text>
<line x1="288.40" y1="308.00" x2="290.50" y2="308.00" stroke="#454545" stroke-width="1" />
<text x="285.90" y="309.80" text-anchor="end" font-size="7.1" font-weight="normal" fill="#111" stroke="#111" stroke-width="0.22">4</text>
<line x1="290.50" y1="413.30" x2="290.50" y2="415.20" stroke="#454545" stroke-width="1" />
<line x1="315.10" y1="413.30" x2="315.10" y2="415.20" stroke="#454545" stroke-width="1" />
<line x1="339.70" y1="413.30" x2="339.70" y2="415.20" stroke="#454545" stroke-width="1" />
<line x1="364.30" y1="413.30" x2="364.30" y2="415.20" stroke="#454545" stroke-width="1" />
<line x1="388.90" y1="413.30" x2="388.90" y2="415.20" stroke="#454545" stroke-width="1" />
<text x="274.50" y="360.50" text-anchor="middle" font-size="7.1" font-weight="normal" fill="#111" stroke="#111" stroke-width="0.22" transform="rotate(-90 274.50 360.50)">TS mRNA (A.U.)</text>
<rect x="426.25" y="339.94" width="12.20" height="73.36" fill="#000" stroke="none" stroke-width="1"/>
<line x1="432.35" y1="339.94" x2="432.35" y2="327.13" stroke="#222" stroke-width="0.9" />
<line x1="429.95" y1="327.13" x2="434.75" y2="327.13" stroke="#222" stroke-width="0.9" />
<text x="434.35" y="425.50" text-anchor="end" font-size="7.1" font-weight="normal" fill="#111" stroke="#111" stroke-width="0.22" transform="rotate(-45 434.35 425.50)">Tumor</text>
<rect x="455.75" y="382.06" width="12.20" height="31.24" fill="#000" stroke="none" stroke-width="1"/>
<line x1="461.85" y1="382.06" x2="461.85" y2="369.43" stroke="#222" stroke-width="0.9" />
<line x1="459.45" y1="369.43" x2="464.25" y2="369.43" stroke="#222" stroke-width="0.9" />
<text x="461.85" y="369.90" text-anchor="middle" font-size="9" font-weight="normal" fill="#000" stroke="#000" stroke-width="0.35">*</text>
<text x="463.85" y="425.50" text-anchor="end" font-size="7.1" font-weight="normal" fill="#111" stroke="#111" stroke-width="0.22" transform="rotate(-45 463.85 425.50)">MSC1</text>
<rect x="485.25" y="403.82" width="12.20" height="9.48" fill="#000" stroke="none" stroke-width="1"/>
<line x1="491.35" y1="403.82" x2="491.35" y2="387.33" stroke="#222" stroke-width="0.9" />
<line x1="488.95" y1="387.33" x2="493.75" y2="387.33" stroke="#222" stroke-width="0.9" />
<text x="491.35" y="385.90" text-anchor="middle" font-size="9" font-weight="normal" fill="#000" stroke="#000" stroke-width="0.35">*</text>
<text x="493.35" y="425.50" text-anchor="end" font-size="7.1" font-weight="normal" fill="#111" stroke="#111" stroke-width="0.22" transform="rotate(-45 493.35 425.50)">MSC2</text>
<line x1="417.90" y1="308.00" x2="417.90" y2="413.80" stroke="#5e5e5e" stroke-width="1.3" />
<line x1="417.10" y1="413.30" x2="506.10" y2="413.30" stroke="#454545" stroke-width="1" />
<line x1="415.50" y1="413.30" x2="417.60" y2="413.30" stroke="#454545" stroke-width="1" />
<text x="411.90" y="415.10" text-anchor="end" font-size="7.1" font-weight="normal" fill="#111" stroke="#111" stroke-width="0.22">0</text>
<line x1="415.50" y1="378.20" x2="417.60" y2="378.20" stroke="#454545" stroke-width="1" />
<text x="411.90" y="380.00" text-anchor="end" font-size="7.1" font-weight="normal" fill="#111" stroke="#111" stroke-width="0.22">1</text>
<line x1="415.50" y1="343.10" x2="417.60" y2="343.10" stroke="#454545" stroke-width="1" />
<text x="411.90" y="344.90" text-anchor="end" font-size="7.1" font-weight="normal" fill="#111" stroke="#111" stroke-width="0.22">2</text>
<line x1="415.50" y1="308.00" x2="417.60" y2="308.00" stroke="#454545" stroke-width="1" />
<text x="411.90" y="309.80" text-anchor="end" font-size="7.1" font-weight="normal" fill="#111" stroke="#111" stroke-width="0.22">3</text>
<line x1="417.60" y1="413.30" x2="417.60" y2="415.20" stroke="#454545" stroke-width="1" />
<line x1="447.10" y1="413.30" x2="447.10" y2="415.20" stroke="#454545" stroke-width="1" />
<line x1="476.60" y1="413.30" x2="476.60" y2="415.20" stroke="#454545" stroke-width="1" />
<line x1="506.10" y1="413.30" x2="506.10" y2="415.20" stroke="#454545" stroke-width="1" />
<text x="406.50" y="360.50" text-anchor="middle" font-size="7.1" font-weight="normal" fill="#111" stroke="#111" stroke-width="0.22" transform="rotate(-90 406.50 360.50)">TS mRNA (A.U.)</text>
</g>
</svg></body></html>
